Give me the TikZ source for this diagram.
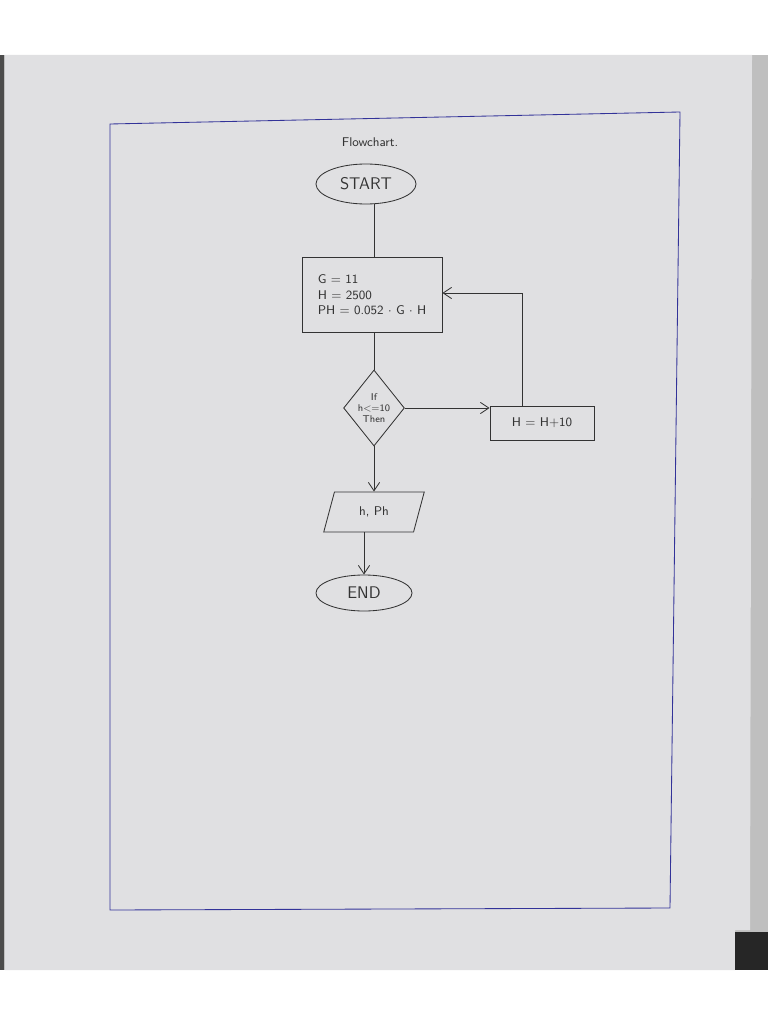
\documentclass[tikz,border=0pt]{standalone}
\usetikzlibrary{shapes.geometric,arrows.meta}
\begin{document}
\begin{tikzpicture}[x=0.025cm,y=-0.025cm,
  ink/.style={draw=black!80,line width=0.6pt},
  arr/.style={ink,-{Straight Barb[length=6pt,width=8pt]}},
  txt/.style={font=\sffamily\small,text=black!80}]
\useasboundingbox (0,0) rectangle (768,1024);
\fill[white] (0,0) rectangle (768,1024);
\fill[black!25] (0,55) rectangle (768,970);
\fill[black!70] (0,55) rectangle (4,970);
\fill[blue!4!black!12!white] (5,55) -- (752,55) -- (750,930) -- (735,930) -- (735,970) -- (5,970) -- cycle;
\fill[black!85] (735,932) rectangle (768,970);
\draw[blue!50!black!80,line width=0.6pt] (110,124) -- (680,112) -- (670,908) -- (110,910) -- cycle;
\node[txt] (title) at (370,142) {Flowchart.};
\node[ink,ellipse,minimum width=2.5cm,minimum height=1cm,txt,font=\sffamily\large] (start) at (366,184) {START};
\node[ink,rectangle,minimum width=3.5cm,minimum height=1.875cm,align=left,txt] (calc) at (372,295) {G = 11\\H = 2500\\PH = 0.052 $\cdot$ G $\cdot$ H};
\node[ink,diamond,aspect=0.8,inner sep=1pt,txt,font=\sffamily\scriptsize,align=center] (dec) at (374,408) {If\\h<=10\\Then};
\node[ink,rectangle,minimum width=2.6cm,minimum height=0.85cm,txt] (inc) at (542,423) {H = H+10};
\node[ink,trapezium,trapezium left angle=75,trapezium right angle=105,minimum width=2.3cm,minimum height=1cm,txt] (out) at (374,512) {h, Ph};
\node[ink,ellipse,minimum width=2.4cm,minimum height=0.9cm,txt,font=\sffamily\large] (end) at (364,593) {END};
\draw[ink] (calc.north -| dec.north) -- (dec.north |- start.south);
\draw[ink] (calc.south -| dec.north) -- (dec.north);
\draw[arr] (dec.east) -- (dec.east -| inc.west);
\coordinate (c1) at (522,293);
\draw[arr] (inc.north -| c1) -- (c1) -- (c1 -| calc.east);
\draw[arr] (dec.south) -- (dec.south |- out.north);
\draw[arr] (out.south -| end.north) -- (end.north);
\end{tikzpicture}
\end{document}
